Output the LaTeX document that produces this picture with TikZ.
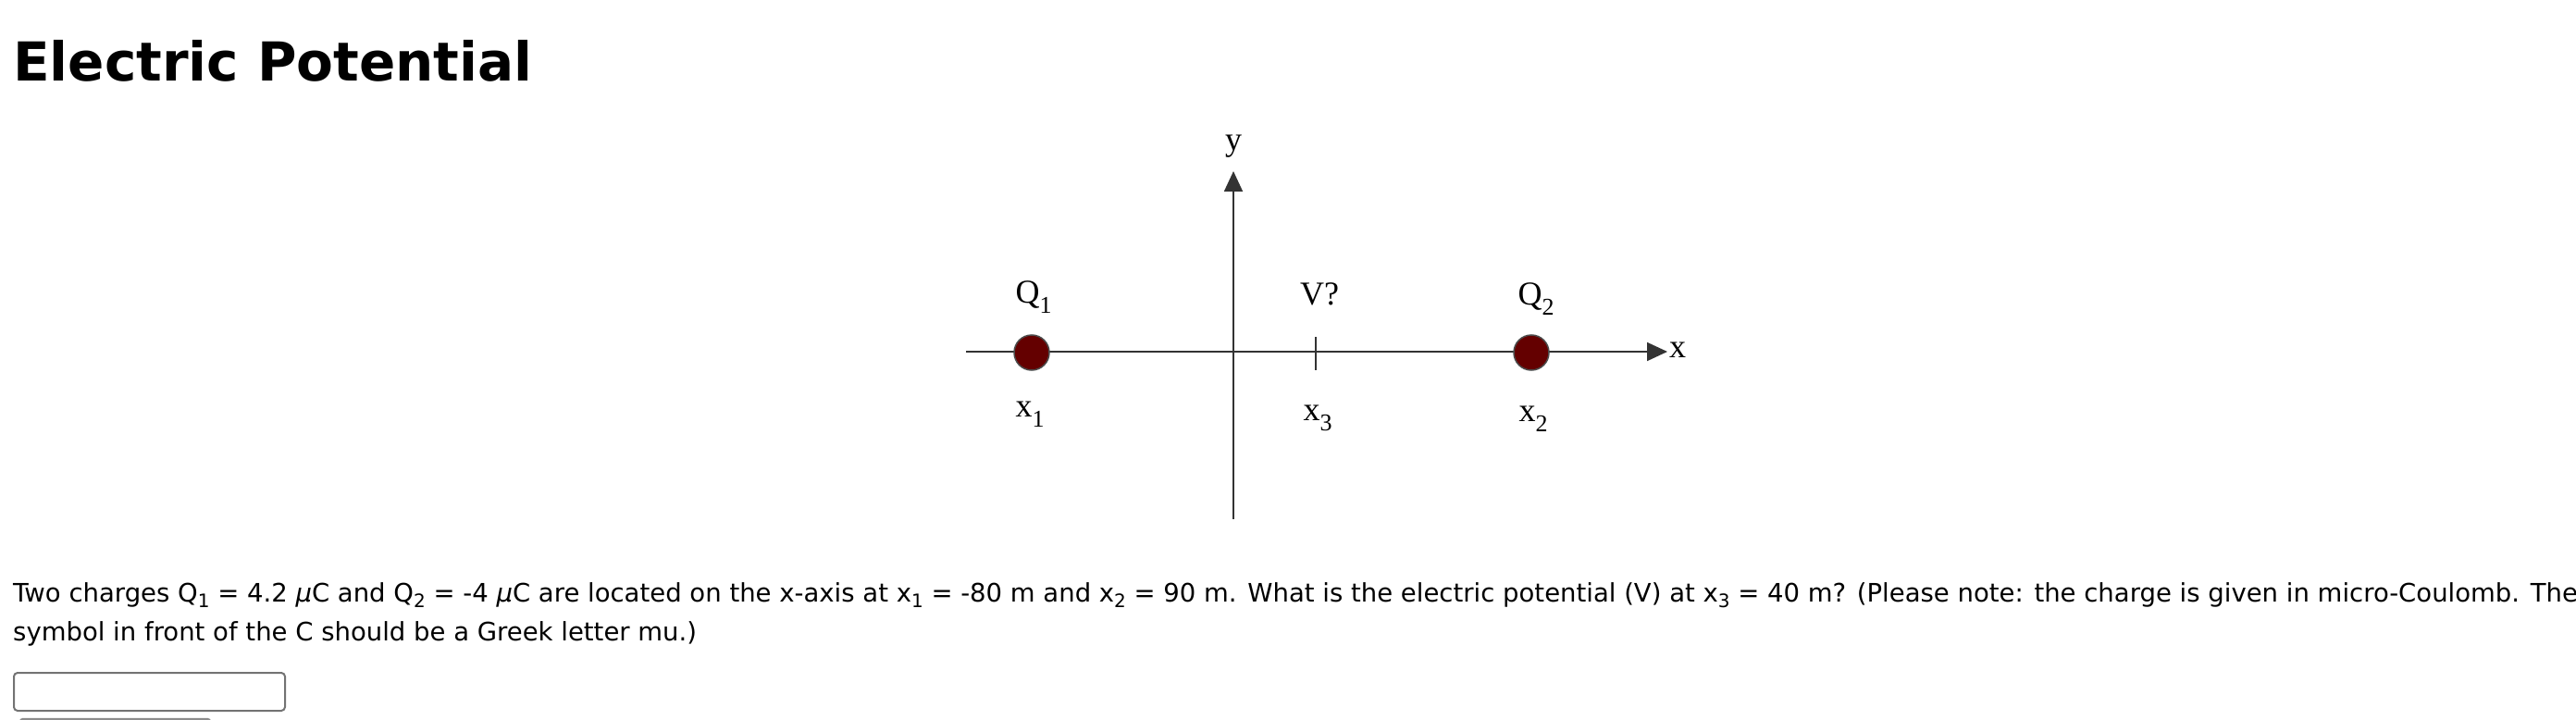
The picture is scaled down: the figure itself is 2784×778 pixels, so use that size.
\documentclass[tikz,border=0pt]{standalone}
\usepackage{fontspec}
\setmainfont{DejaVu Sans}
\newfontfamily\tfont{Liberation Serif}
\usetikzlibrary{arrows.meta}
\newcommand\sbs[1]{\raisebox{-0.22em}{\fontsize{20}{20}\selectfont #1}}
\newcommand\dsb[1]{\raisebox{-0.3em}{\fontsize{26}{26}\selectfont #1}}
\tikzset{
 axis/.style={line width=1.8pt,draw=black!80,-{Triangle[length=22pt,width=20pt]}},
 charge/.style={circle,minimum size=38pt,inner sep=0pt,fill={rgb,255:red,100;green,0;blue,0},draw=black!70,line width=1.5pt},
 lbl/.style={font=\tfont\fontsize{36}{36}\selectfont,inner sep=0pt},
 body/.style={font=\fontsize{27.5}{42}\selectfont,anchor=base west,inner sep=0pt}
}
\begin{document}
\begin{tikzpicture}[x=1pt,y=-1pt]
\useasboundingbox[fill=white] (0,0) rectangle (2784,778);
\node[anchor=base west,inner sep=0pt,font=\bfseries\fontsize{58}{58}\selectfont] (title) at (14,88) {Electric Potential};
% axes
\coordinate (xl) at (1044,380);
\coordinate (xr) at (1802,380);
\coordinate (yb) at (1333,561);
\coordinate (yt) at (1333,185);
\draw[axis] (xl) -- (xr);
\draw[axis] (yb) -- (yt);
\node[lbl] (xlab) at (1813,378) {x};
\node[lbl] (ylab) at (1333,158) {y};
% tick
\coordinate (t1) at (1422,364);
\coordinate (t2) at (1422,400);
\draw[line width=1.5pt,black!80] (t1) -- (t2);
% charges
\node[charge] (q1) at (1115,381) {};
\node[charge] (q2) at (1655,381) {};
\node[lbl] (Q1) at (1117,321) {Q\dsb{1}};
\node[lbl] (V) at (1426,318) {V?};
\node[lbl] (Q2) at (1660,323) {Q\dsb{2}};
\node[lbl] (x1) at (1113,448) {x\dsb{1}};
\node[lbl] (x3) at (1424,452) {x\dsb{3}};
\node[lbl] (x2) at (1657,453) {x\dsb{2}};
% text
\node[body] (l1) at (14,650) {Two charges Q\sbs{1} = 4.2 {\itshape μ}C and Q\sbs{2} = -4 {\itshape μ}C are located on the x-axis at x\sbs{1} = -80 m and x\sbs{2} = 90 m. What is the electric potential (V) at x\sbs{3} = 40 m? (Please note: the charge is given in micro-Coulomb. The};
\node[body] (l2) at (14,692) {symbol in front of the C should be a Greek letter mu.)};
\draw[black!55,line width=2pt,rounded corners=4pt] (15,727) rectangle (308,768);
\draw[black!45,line width=2.5pt,rounded corners=3pt] (22,790) -- (22,777) -- (227,777) -- (227,790);
\end{tikzpicture}
\end{document}
